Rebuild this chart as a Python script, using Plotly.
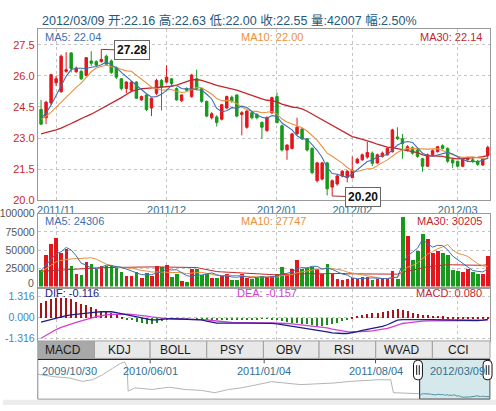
import numpy as np
import pandas as pd
import plotly.graph_objects as go

W, H = 496, 411

# ---------------- data ----------------
holidays = ["2012-01-02", "2012-01-03", "2012-01-23", "2012-01-24",
            "2012-01-25", "2012-01-26", "2012-01-27"]
trade_dates = [d for d in pd.bdate_range("2011-10-27", "2012-03-09")
               if d.strftime("%Y-%m-%d") not in holidays]

opens = [24.38, 23.98, 24.69, 25.67, 25.23, 26.22, 27.11, 26.20, 26.22, 26.02,
         26.72, 26.69, 26.69, 26.95, 26.72, 26.41, 25.86, 25.39, 25.31, 25.70,
         24.84, 25.08, 24.45, 25.16, 25.78, 25.70, 25.86, 25.39, 24.80, 25.39,
         25.00, 25.86, 25.39, 24.77, 23.98, 24.02, 23.91, 24.45, 24.97, 25.08,
         24.14, 23.52, 24.22, 24.14, 23.75, 23.36, 24.22, 25.00, 23.59, 22.42,
         22.50, 23.20, 23.44, 22.97, 22.50, 20.94, 21.02, 21.80, 20.63, 20.78,
         21.17, 21.09, 21.09, 21.80, 21.95, 22.08, 22.27, 21.80, 22.11, 22.19,
         22.34, 23.05, 22.97, 22.42, 22.53, 22.42, 22.00, 21.64, 22.19, 22.34,
         22.63, 22.50, 21.95, 21.88, 21.64, 21.95, 21.95, 21.88, 21.70, 22.16]
closes = [23.67, 24.73, 26.06, 25.86, 26.95, 26.30, 26.36, 26.38, 25.86, 26.88,
          26.61, 26.52, 26.80, 26.56, 26.17, 25.94, 25.39, 25.70, 25.70, 24.92,
          25.00, 24.38, 24.92, 25.78, 25.47, 25.94, 25.63, 24.84, 25.08, 25.31,
          26.04, 25.39, 24.77, 24.06, 24.17, 23.75, 24.61, 25.00, 24.80, 24.06,
          24.22, 24.30, 23.98, 23.98, 23.52, 23.98, 24.95, 23.75, 22.42, 22.66,
          23.20, 23.52, 22.97, 22.42, 21.33, 21.80, 21.80, 20.55, 20.94, 21.17,
          21.40, 21.40, 21.45, 21.98, 22.19, 22.30, 21.78, 22.19, 22.27, 22.50,
          23.39, 22.97, 22.73, 22.58, 22.27, 22.11, 21.64, 22.19, 22.39, 22.58,
          22.50, 21.88, 21.80, 21.64, 21.98, 22.06, 21.88, 21.73, 21.98, 22.55]
highs = [24.84, 24.80, 26.10, 26.00, 27.03, 27.15, 27.15, 26.45, 26.30, 26.90,
         27.19, 26.75, 27.28, 27.03, 26.80, 26.45, 25.90, 25.75, 25.75, 25.75,
         25.05, 25.10, 24.95, 25.86, 25.85, 26.52, 25.90, 25.45, 25.10, 25.45,
         26.10, 26.30, 25.45, 24.80, 24.25, 24.10, 24.65, 25.05, 25.05, 25.10,
         24.30, 24.35, 24.30, 24.20, 23.80, 24.05, 25.00, 25.20, 23.65, 22.70,
         23.25, 23.98, 23.50, 23.00, 22.55, 21.85, 21.85, 21.85, 21.00, 21.25,
         21.45, 21.45, 22.11, 22.05, 22.25, 22.81, 22.35, 22.25, 22.35, 22.55,
         23.45, 23.52, 23.20, 22.65, 22.60, 22.50, 22.05, 22.25, 22.45, 22.62,
         22.70, 22.55, 22.00, 21.90, 22.05, 22.10, 22.05, 21.95, 22.05, 22.63]
lows = [23.62, 23.67, 24.60, 25.50, 25.20, 26.15, 26.17, 26.15, 25.80, 25.98,
        26.48, 26.45, 26.64, 26.50, 26.10, 25.85, 25.30, 25.16, 25.25, 24.90,
        24.80, 24.30, 24.06, 25.08, 24.33, 25.65, 25.55, 24.80, 24.75, 25.25,
        24.95, 25.30, 24.70, 24.00, 23.90, 23.56, 23.85, 24.40, 24.70, 24.00,
        23.13, 23.45, 23.90, 23.90, 22.97, 23.30, 24.15, 23.70, 22.35, 21.95,
        22.45, 23.15, 22.90, 22.35, 21.25, 20.86, 20.95, 20.23, 20.20, 20.70,
        21.10, 20.86, 21.05, 21.75, 21.90, 22.00, 21.65, 21.75, 22.05, 22.15,
        22.30, 22.90, 22.00, 22.35, 22.20, 22.05, 21.38, 21.60, 22.10, 22.30,
        22.45, 21.80, 21.56, 21.60, 21.60, 21.90, 21.80, 21.65, 21.65, 22.00]
volumes = [23000, 44000, 59000, 67000, 46000, 52000, 28000, 18000, 16000, 34000,
           31000, 25000, 28000, 29000, 30000, 26000, 20000, 15000, 15000, 20000,
           12000, 19000, 15000, 28000, 27000, 30000, 14000, 17000, 8000, 6000,
           24000, 25000, 16000, 17000, 12000, 12000, 15000, 18000, 9000, 10000,
           18000, 12000, 11000, 11600, 14800, 13900, 14800, 17100, 27800, 17100,
           24000, 36600, 25000, 25500, 27800, 24000, 17100, 32000, 17100, 11100,
           8780, 10200, 12500, 11100, 13000, 14000, 8800, 10200, 10200, 10800,
           22000, 11100, 96000, 70000, 37000, 49000, 72000, 66000, 47000, 49000,
           47000, 44000, 22440, 21500, 21000, 24000, 21000, 17000, 17523, 42007]

# moving-average values before enough history exists
ma5_head = [23.95, 24.20, 24.60, 25.05]
ma10_head = [23.90, 24.05, 24.25, 24.50, 24.75, 25.00, 25.25, 25.45, 25.65]
ma30_head = [23.20, 23.26, 23.32, 23.39, 23.48, 23.58, 23.70, 23.82, 23.95, 24.05,
             24.15, 24.28, 24.40, 24.52, 24.65, 24.80, 24.95, 25.10, 25.25, 25.32,
             25.38, 25.40, 25.42, 25.44, 25.45, 25.48, 25.50, 25.55, 25.62]
vma5_head = [22000, 30000, 38000, 45000]
vma10_head = [20000, 25000, 30000, 34000, 36000, 37500, 38000, 38200, 38500]
vma30_head = [21000, 21500, 22000, 22500, 23000, 23500, 24000, 24300, 24600, 25000,
              25300, 25600, 25900, 26100, 26300, 26500, 26600, 26700, 26800, 26900,
              27000, 27000, 27000, 27000, 26900, 26900, 26800, 26800, 26700]

dif = [-0.29, -0.20, -0.10, -0.02, 0.06, 0.13, 0.18, 0.22, 0.25, 0.27,
       0.31, 0.35, 0.37, 0.38, 0.37, 0.32, 0.26, 0.20, 0.13, 0.06,
       0.00, -0.08, -0.14, -0.14, -0.10, -0.08, -0.07, -0.08, -0.09, -0.10,
       -0.10, -0.11, -0.14, -0.22, -0.30, -0.35, -0.35, -0.34, -0.33, -0.34,
       -0.35, -0.35, -0.35, -0.35, -0.35, -0.35, -0.36, -0.40, -0.45, -0.50,
       -0.55, -0.58, -0.62, -0.66, -0.71, -0.76, -0.83, -0.90, -0.96, -0.99,
       -1.00, -1.00, -0.96, -0.88, -0.80, -0.74, -0.68, -0.62, -0.55, -0.45,
       -0.30, -0.16, -0.13, -0.12, -0.11, -0.10, -0.11, -0.12, -0.12, -0.13,
       -0.13, -0.14, -0.15, -0.16, -0.16, -0.17, -0.17, -0.18, -0.16, -0.116]
dea = [-1.30, -1.10, -0.90, -0.75, -0.62, -0.50, -0.40, -0.30, -0.20, -0.13,
       -0.03, 0.06, 0.13, 0.18, 0.21, 0.22, 0.23, 0.22, 0.20, 0.18,
       0.15, 0.10, 0.05, 0.00, -0.04, -0.06, -0.07, -0.08, -0.09, -0.09,
       -0.10, -0.10, -0.11, -0.14, -0.18, -0.22, -0.26, -0.28, -0.30, -0.31,
       -0.32, -0.32, -0.32, -0.32, -0.32, -0.33, -0.33, -0.33, -0.35, -0.37,
       -0.40, -0.43, -0.46, -0.50, -0.53, -0.56, -0.60, -0.65, -0.72, -0.78,
       -0.84, -0.88, -0.90, -0.90, -0.88, -0.86, -0.84, -0.80, -0.75, -0.68,
       -0.58, -0.45, -0.37, -0.33, -0.28, -0.24, -0.22, -0.21, -0.20, -0.20,
       -0.19, -0.19, -0.18, -0.18, -0.18, -0.18, -0.17, -0.17, -0.17, -0.157]
macd_hist = [0.98, 1.08, 1.18, 1.27, 1.30, 1.27, 1.18, 1.04, 0.92, 0.80,
             0.67, 0.57, 0.47, 0.39, 0.31, 0.24, 0.10, -0.06, -0.14, -0.22,
             -0.30, -0.36, -0.38, -0.30, -0.16, -0.06, -0.02, -0.02, -0.03, -0.02,
             0.00, -0.02, -0.06, -0.10, -0.12, -0.10, -0.08, -0.06, -0.06, -0.06,
             -0.06, -0.06, -0.06, -0.06, -0.05, -0.05, -0.06, -0.14, -0.20, -0.25,
             -0.30, -0.30, -0.35, -0.40, -0.45, -0.49, -0.49, -0.45, -0.40, -0.30,
             -0.20, -0.10, 0.10, 0.16, 0.22, 0.27, 0.31, 0.33, 0.39, 0.45,
             0.53, 0.57, 0.49, 0.43, 0.35, 0.27, 0.22, 0.18, 0.16, 0.14,
             0.12, 0.10, 0.06, 0.03, 0.03, 0.05, 0.03, 0.02, 0.04, 0.08]

# long-history navigator line (approximate adjusted prices)
nav_dates = ["2009-10-30", "2009-11-27", "2009-12-30", "2010-01-23", "2010-02-11",
             "2010-03-02", "2010-03-21", "2010-03-31", "2010-04-05", "2010-04-13",
             "2010-04-18", "2010-04-20", "2010-05-03", "2010-06-05", "2010-07-07",
             "2010-08-06", "2010-09-07", "2010-10-02", "2010-10-28", "2010-11-22",
             "2011-01-18", "2011-03-15", "2011-05-17", "2011-06-18", "2011-08-08",
             "2011-09-02", "2011-09-07", "2011-10-26"]
nav_values = [56.6, 53.0, 50.6, 45.5, 48.0, 55.5, 65.5, 70.5, 73.0, 75.5,
              68.0, 30.5, 35.5, 33.0, 36.5, 33.0, 31.5, 28.0, 33.0, 35.5,
              45.0, 40.5, 43.0, 45.5, 48.0, 48.0, 28.0, 26.5]
nav_first = "2009/10/30"
nav_labels = ["2010/06/01", "2011/01/04", "2011/08/04"]

vol_ticks = [0, 25000, 50000, 75000, 100000]
price_ticks = [20.0, 21.5, 23.0, 24.5, 26.0, 27.5]
macd_ticks = [-1.316, 0.0, 1.316]

header = "2012/03/09 开:22.16 高:22.63 低:22.00 收:22.55 量:42007 幅:2.50%"

n = len(closes)
assert n == len(trade_dates) == len(opens) == len(highs) == len(lows) == len(volumes)
assert n == len(dif) == len(dea) == len(macd_hist)
idx = list(range(n))


def moving_avg(vals, w, head):
    out = []
    for i in range(len(vals)):
        out.append(head[i] if i < w - 1 else float(np.mean(vals[i - w + 1:i + 1])))
    return out


ma5 = moving_avg(closes, 5, ma5_head)
ma10 = moving_avg(closes, 10, ma10_head)
ma30 = moving_avg(closes, 30, ma30_head)
vma5 = moving_avg(volumes, 5, vma5_head)
vma10 = moving_avg(volumes, 10, vma10_head)
vma30 = moving_avg(volumes, 30, vma30_head)

month_idx = [i for i in range(1, n) if trade_dates[i].month != trade_dates[i - 1].month]
month_txt = [trade_dates[i].strftime("%Y/%m") for i in month_idx]

# ---------------- style ----------------
FONT = "Liberation Sans, Arial, Noto Sans CJK SC, sans-serif"
RED = "#e2161c"
GREEN = "#179a1b"
C_MA5 = "#3d6fb3"
C_MA10 = "#e8913f"
C_MA30 = "#c3272d"
C_DIF = "#1c1c8a"
C_DEA = "#d23fd2"
GRID = "#c4c4c4"
BORDER = "#9a9a9a"
TEAL = "#33708f"


def X(px):
    return px / W


def Y(py):
    return 1 - py / H


XDOM = [X(35), X(490)]
XR = [-0.65, 89.45]

fig = go.Figure()

fig.add_trace(go.Candlestick(
    x=idx, open=opens, high=highs, low=lows, close=closes,
    increasing=dict(line=dict(color=RED, width=1), fillcolor=RED),
    decreasing=dict(line=dict(color=GREEN, width=1), fillcolor=GREEN),
    whiskerwidth=0, hoverinfo="skip", showlegend=False, xaxis="x", yaxis="y"))
for vals, col, w in [(ma30, C_MA30, 1.3), (ma10, C_MA10, 1.1), (ma5, C_MA5, 1.1)]:
    fig.add_trace(go.Scatter(x=idx, y=vals, mode="lines", line=dict(color=col, width=w),
                             hoverinfo="skip", showlegend=False, xaxis="x", yaxis="y"))

vcol = [RED if c >= o else GREEN for o, c in zip(opens, closes)]
fig.add_trace(go.Bar(x=idx, y=volumes, marker=dict(color=vcol, line=dict(width=0)),
                     width=0.74, hoverinfo="skip", showlegend=False, xaxis="x2", yaxis="y2"))
for vals, col in [(vma30, C_MA30), (vma10, C_MA10), (vma5, C_MA5)]:
    fig.add_trace(go.Scatter(x=idx, y=vals, mode="lines", line=dict(color=col, width=1),
                             hoverinfo="skip", showlegend=False, xaxis="x2", yaxis="y2"))

hcol = ["#a5141a" if v >= 0 else "#1d8a1d" for v in macd_hist]
fig.add_trace(go.Bar(x=idx, y=macd_hist, marker=dict(color=hcol, line=dict(width=0)),
                     width=0.22, hoverinfo="skip", showlegend=False, xaxis="x3", yaxis="y3"))
fig.add_trace(go.Scatter(x=idx, y=dea, mode="lines", line=dict(color=C_DEA, width=1.3),
                         hoverinfo="skip", showlegend=False, xaxis="x3", yaxis="y3"))
fig.add_trace(go.Scatter(x=idx, y=dif, mode="lines", line=dict(color=C_DIF, width=1.3),
                         hoverinfo="skip", showlegend=False, xaxis="x3", yaxis="y3"))

# navigator
fig.add_trace(go.Scatter(x=nav_dates, y=nav_values, mode="lines",
                         line=dict(color="#b4b4b4", width=1), hoverinfo="skip",
                         showlegend=False, xaxis="x4", yaxis="y4"))
fig.add_trace(go.Scatter(x=trade_dates, y=closes, mode="lines",
                         line=dict(color="#4f8ea8", width=1), hoverinfo="skip",
                         showlegend=False, xaxis="x4", yaxis="y4"))

common_x = dict(domain=XDOM, range=XR, tickvals=month_idx, showgrid=True, gridcolor=GRID,
                griddash="dot", gridwidth=1, zeroline=False, showline=True, mirror=True,
                linecolor=BORDER, ticks="", fixedrange=True)
common_y = dict(showgrid=True, gridcolor=GRID, griddash="dot", zeroline=False,
                showline=True, mirror=True, linecolor=BORDER, ticks="", fixedrange=True)

# volume zero label is drawn as a separate annotation slightly raised (as in the original)
vol_ticktext = ["" if v == 0 else str(v) for v in vol_ticks]

fig.update_layout(
    width=W, height=H, margin=dict(l=0, r=0, t=0, b=0),
    paper_bgcolor="white", plot_bgcolor="white",
    font=dict(family=FONT, size=11), bargap=0,
    xaxis=dict(common_x, anchor="y", ticktext=month_txt, rangeslider=dict(visible=False),
               tickfont=dict(color=TEAL, size=11)),
    yaxis=dict(common_y, domain=[Y(200), Y(24)], range=[20.0, 28.25],
               tickvals=price_ticks, ticktext=["%.1f" % v for v in price_ticks],
               tickfont=dict(color="#c8282c", size=11), anchor="x"),
    xaxis2=dict(common_x, anchor="y2", showticklabels=False),
    yaxis2=dict(common_y, domain=[Y(289), Y(214)], range=[0, 100000],
                tickvals=vol_ticks, ticktext=vol_ticktext,
                tickfont=dict(color="#555555", size=10.5), anchor="x2"),
    xaxis3=dict(common_x, anchor="y3", showticklabels=False),
    yaxis3=dict(common_y, domain=[Y(345), Y(291)], range=[-1.469, 1.836],
                tickvals=macd_ticks, ticktext=["%.3f" % v for v in macd_ticks],
                tickfont=dict(color="#3f86b8", size=10.5), anchor="x3"),
    xaxis4=dict(domain=XDOM, type="date", range=["2009-10-30", "2012-03-09"],
                showticklabels=False, showgrid=False, zeroline=False, showline=False,
                ticks="", anchor="y4", fixedrange=True),
    yaxis4=dict(domain=[Y(405), Y(364)], range=[18, 79.5], showticklabels=False,
                showgrid=False, zeroline=False, showline=False, ticks="", anchor="x4",
                fixedrange=True),
)

shapes = []
ann = []

# selection window in navigator
shapes.append(dict(type="rect", xref="x4", yref="paper", x0=trade_dates[0], x1=trade_dates[-1],
                   y0=Y(405), y1=Y(364), fillcolor="#d5e8eb", line=dict(color="#222", width=1),
                   layer="below"))
# navigator frame
shapes.append(dict(type="rect", xref="paper", yref="paper", x0=X(35), x1=X(490),
                   y0=Y(405), y1=Y(364), line=dict(color="#888", width=1)))
shapes.append(dict(type="line", xref="paper", yref="paper", x0=X(35), x1=X(490),
                   y0=Y(364), y1=Y(364), line=dict(color="#222", width=1.5)))
# bottom band
shapes.append(dict(type="rect", xref="paper", yref="paper", x0=0, x1=1, y0=0, y1=Y(405.5),
                   fillcolor="#ececec", line=dict(width=0)))
for d in nav_labels:
    dd = d.replace("/", "-")
    shapes.append(dict(type="line", xref="x4", yref="paper", x0=dd, x1=dd,
                       y0=Y(368), y1=Y(364), line=dict(color="#555", width=1)))
    ann.append(dict(x=dd, y=Y(376), xref="x4", yref="paper", text=d, showarrow=False,
                    xanchor="center", yanchor="middle", font=dict(size=11, color=TEAL)))
ann.append(dict(x=X(37), y=Y(376), xref="paper", yref="paper", text=nav_first,
                showarrow=False, xanchor="left", yanchor="middle", font=dict(size=11, color=TEAL)))
ann.append(dict(x=X(487), y=Y(376), xref="paper", yref="paper",
                text=trade_dates[-1].strftime("%Y/%m/%d"), showarrow=False, xanchor="right",
                yanchor="middle", font=dict(size=11, color=TEAL)))
# handles
for hx in (417.5, 487.5):
    x0, x1, y0, y1, r = hx - 4.5, hx + 4.5, 365, 385, 4
    path = (f"M {X(x0)},{Y(y0 + r)} Q {X(x0)},{Y(y0)} {X(x0 + r)},{Y(y0)} "
            f"L {X(x1 - r)},{Y(y0)} Q {X(x1)},{Y(y0)} {X(x1)},{Y(y0 + r)} "
            f"L {X(x1)},{Y(y1 - r)} Q {X(x1)},{Y(y1)} {X(x1 - r)},{Y(y1)} "
            f"L {X(x0 + r)},{Y(y1)} Q {X(x0)},{Y(y1)} {X(x0)},{Y(y1 - r)} Z")
    shapes.append(dict(type="path", xref="paper", yref="paper", path=path,
                       fillcolor="white", line=dict(color="#111", width=1)))
    for dx in (-1.3, 1.3):
        shapes.append(dict(type="line", xref="paper", yref="paper", x0=X(hx + dx), x1=X(hx + dx),
                           y0=Y(370), y1=Y(380), line=dict(color="#111", width=1)))

# tabs
tabs = ["MACD", "KDJ", "BOLL", "PSY", "OBV", "RSI", "WVAD", "CCI"]
tab_edges = [35, 92, 148, 205, 262, 318, 375, 432, 490]
for k, t in enumerate(tabs):
    shapes.append(dict(type="rect", xref="paper", yref="paper", x0=X(tab_edges[k]),
                       x1=X(tab_edges[k + 1]), y0=Y(363), y1=Y(345),
                       fillcolor="#a8a8a8" if k == 0 else "#e8e8e8",
                       line=dict(color="#a0a0a0", width=1)))
    ann.append(dict(x=X((tab_edges[k] + tab_edges[k + 1]) / 2 - 3), y=Y(354.5), xref="paper",
                    yref="paper", text=t, showarrow=False, xanchor="center", yanchor="middle",
                    font=dict(size=12, color="#1a1a1a")))


def label(px, py, text, color, anchor="left", size=11):
    ann.append(dict(x=X(px), y=Y(py), xref="paper", yref="paper", text=text, showarrow=False,
                    xanchor=anchor, yanchor="middle", font=dict(size=size, color=color)))


label(33, 285, str(vol_ticks[0]), "#555555", "right", size=10.5)
label(37, 15, header, "#245879", size=12.5)
label(40, 32, "MA5: %.2f" % ma5[-1], C_MA5)
label(237, 32, "MA10: %.2f" % ma10[-1], C_MA10)
label(484, 32, "MA30: %.2f" % ma30[-1], C_MA30, "right")
label(40, 221, "MA5: %d" % round(vma5[-1]), C_MA5)
label(237, 221, "MA10: %d" % round(vma10[-1]), C_MA10)
label(484, 221, "MA30: %d" % round(vma30[-1]), C_MA30, "right")
label(40, 296, "DIF: %.3f" % dif[-1], C_DIF)
label(233, 296, "DEA: %.3f" % dea[-1], C_DEA)
label(484, 296, "MACD: %.3f" % macd_hist[-1], C_MA30, "right")

imax = int(np.argmax(highs))
imin = int(np.argmin(lows))
for i, v in [(imax, highs[imax]), (imin, lows[imin])]:
    ann.append(dict(x=i, y=v, xref="x", yref="y", text="<b>%.2f</b>" % v, showarrow=True,
                    arrowhead=0, arrowwidth=1, arrowcolor="#a03030", ax=31, ay=1,
                    bgcolor="white", bordercolor="#666", borderwidth=1, borderpad=2,
                    font=dict(size=12, color="#111")))

fig.update_layout(shapes=shapes, annotations=ann)
fig.write_html("out.html")
